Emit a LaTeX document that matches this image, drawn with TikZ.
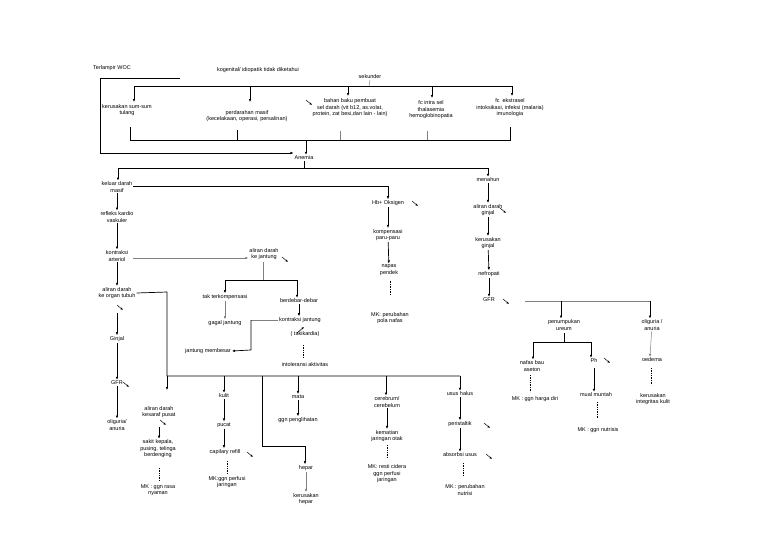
\documentclass[tikz,border=0pt]{standalone}
\usepackage{fontspec}
\setmainfont{Liberation Sans}
\usetikzlibrary{arrows.meta}
\begin{document}
\begin{tikzpicture}[x=1pt,y=-1pt,
 t/.style={font=\fontsize{5.5}{6.5}\selectfont,align=center,inner sep=1pt},
 a/.style={-{Latex[length=3pt,width=2.6pt]},line width=0.7pt},
 l/.style={line width=0.7pt},
 g/.style={line width=0.5pt,gray},
 dd/.style={densely dotted,line width=0.7pt}]
\useasboundingbox (0,0) rectangle (768,543);
\newcommand{\dn}[1]{\draw[-{Latex[length=2.5pt,width=2.2pt]},line width=0.5pt] (#1) ++(-3,-3) -- ++(6,5);}
% top
\node[t] (woc) at (112,68) {Terlampir WOC};
\node[t] (kog) at (258,70) {kogenital/ idiopatik tidak diketahui};
\node[t] (sek) at (370,77) {sekunder};
\node[t] (k1) at (127,110) {kerusakan sum-sum\\tulang};
\node[t] (k2) at (247,116) {perdarahan masif\\(kecelakaan, operasi, persalinan)};
\node[t] (k3) at (350,108) {bahan baku pembuat\\sel darah (vit b12, as.volat,\\protein, zat besi,dan lain - lain)};
\node[t] (k4) at (431,110) {fc intra sel\\thalasemia\\hemoglobinopatia};
\node[t] (k5) at (510,108) {fc\ \ ekstrasel\\intoksikasi, infeksi (malaria)\\imunologia};
\dn{309,103}
\draw[g] (sek.south) -- (369,86);
\draw[l] (134,86) -- (512,86);
\draw[a] (134,86) -- (134,102);
\draw[a] (250,86) -- (250,102);
\draw[a] (348,86) -- (348,96);
\draw[a] (432,86) -- (432,98);
\draw[a] (512,86) -- (512,96);
\draw[l] (130,127) -- (130,140) -- (510,140) -- (510,127);
\draw[l] (237,130) -- (237,140);
\draw[g] (340,131) -- (340,140);
\draw[g] (427,131) -- (427,140);
\node[t] (an) at (304,158) {Anemia};
\draw[a] (306,140) -- (an.north -| 306,0);
\draw[a] (180,78) -- (100,78) -- (100,153) -- (an.west |- 0,153);
% level 2
\draw[l] (an.south) -- (304,168);
\draw[l] (118,168) -- (488,168);
\node[t] (kd) at (117,187) {keluar darah\\masif};
\node[t] (me) at (488,180) {menahun};
\draw[a] (118,168) -- (kd.north -| 118,0);
\draw[a] (488,168) -- (me.north);
% left column
\node[t] (rk) at (117,217) {refleks kardio\\vaskuler};
\node[t] (ka) at (117,256) {kontraksi\\arteriol};
\node[t] (ao) at (117,293) {aliran darah\\ke organ tubuh};
\dn{120,308}
\node[t] (gi) at (117,339) {Ginjal};
\node[t] (gf) at (117,383) {GFR};
\dn{126,385}
\node[t] (ol) at (117,425) {oliguria/\\anuria};
\draw[a] (kd) -- (rk);
\draw[a] (rk) -- (ka);
\draw[a] (ka) -- (ao);
\draw[a] (117,313) -- (gi);
\draw[a] (gi) -- (gf);
\draw[a] (gf) -- (ol);
% Hb column
\node[t] (hb) at (388,203) {Hb+ Oksigen};
\dn{415,204}
\node[t] (kp) at (388,235) {kompensasi\\paru-paru};
\node[t] (np) at (389,270) {napas\\pendek};
\node[t] (mk1) at (390,318) {MK: perubahan\\pola nafas};
\draw[a] (kd.east |- 0,186) -- (388,186) -- (hb.north);
\draw[a] (hb) -- (kp);
\draw[a] (kp) -- (np);
\draw[dd] (np.south) ++(1,4) -- ++(0,15);
% jantung
\node[t] (aj) at (264,254) {aliran darah\\ke jantung};
\dn{285,260}
\draw[g,-{Latex[length=3pt,width=2.6pt]}] (ka.east) ++(4,2) -- (aj.west |- 0,258);
\draw[g] (263,262) -- (263,280);
\draw[l] (225,280) -- (297,280);
\node[t] (tk) at (225,297) {tak terkompensasi};
\node[t] (bd) at (299,301) {berdebar-debar};
\node[t] (gj) at (225,323) {gagal jantung};
\node[t] (kj) at (300,320) {kontraksi jantung};
\node[t] (ta) at (305,334) {( takikardia)};
\node[t] (jm) at (208,351) {jantung membesar};
\node[t] (ia) at (305,365) {intoleransi aktivitas};
\draw[a] (225,280) -- (tk.north);
\draw[a] (297,280) -- (bd.north -| 297,0);
\draw[g,-{Latex[length=3pt,width=2.6pt]}] (tk) -- (gj);
\draw[a] (bd) -- (kj.north -| 299,0);
\draw[-{Latex[length=2.5pt,width=2.2pt]},line width=0.5pt] (297,333) -- (304,327);
\draw[g] (kj.west) -- (251,320);
\draw[a] (251,320) -- (251,350) -- (jm.east);
\draw[dd] (303,345) -- (303,358);
% big bracket
\draw[l] (ao.east) -- (167,292) -- (167,376) -- (460,376);
\draw[l] (262,376) -- (262,446) -- (305,446);
\node[t] (as) at (159,412) {aliran darah\\kesaraf pusat};
\dn{163,423}
\node[t] (sk) at (158,449) {sakit kepala,\\pusing, telinga\\berdenging};
\node[t] (mk2) at (158,490) {MK : ggn rasa\\nyaman};
\draw[a] (167,376) -- (167,390);
\draw[a] (159,427) -- (sk.north -| 159,0);
\draw[dd] (159,468) -- (159,481);
\node[t] (ku) at (224,396) {kulit};
\node[t] (pu) at (224,425) {pucat};
\node[t] (cr) at (225,452) {capilary refill};
\dn{250,455}
\node[t] (mk3) at (227,482) {MK:ggn perfusi\\jaringan};
\draw[a] (224,376) -- (ku.north);
\draw[a] (ku) -- (pu);
\draw[a] (pu) -- (cr.north -| 224,0);
\draw[dd] (227,461) -- (227,474);
\node[t] (ma) at (298,397) {mata};
\node[t] (gp) at (298,420) {ggn penglihatan};
\draw[a] (298,376) -- (ma.north);
\draw[a] (ma) -- (gp);
\node[t] (he) at (306,468) {hepar};
\node[t] (kh) at (306,499) {kerusakan\\hepar};
\draw[a] (305,446) -- (he.north -| 305,0);
\draw[g,-{Latex[length=3pt,width=2.6pt]}] (he) -- (kh);
\node[t] (ce) at (387,402) {cerebrum/\\cerebelum};
\node[t] (ko) at (387,436) {kematian\\jaringan otak};
\node[t] (mk4) at (387,474) {MK: resti cidera\\ggn perfusi\\jaringan};
\draw[a] (386,376) -- (ce.north -| 386,0);
\draw[a] (ce) -- (ko);
\draw[dd] (387,445) -- (387,458);
\node[t] (uh) at (460,394) {usus halus};
\node[t] (pe) at (460,424) {peristaltik};
\dn{487,426}
\node[t] (ab) at (460,455) {absorbsi usus};
\dn{489,457}
\node[t] (mk5) at (465,490) {MK : perubahan\\nutrisi};
\draw[a] (460,376) -- (uh.north);
\draw[a] (uh) -- (pe);
\draw[a] (pe) -- (ab);
\draw[dd] (463,463) -- (463,475);
% right column
\node[t] (ag) at (488,210) {aliran darah\\ginjal};
\dn{503,211}
\node[t] (kg) at (488,243) {kerusakan\\ginjal};
\node[t] (nf) at (489,274) {nefropati};
\node[t] (gf2) at (489,300) {GFR};
\dn{506,302}
\draw[a] (me) -- (ag);
\draw[a] (ag) -- (kg);
\draw[a] (kg) -- (nf);
\draw[a] (nf) -- (gf2);
\draw[g] (525,301) -- (650,301);
\node[t] (pn) at (564,325) {penumpukan\\ureum};
\node[t] (oa) at (652,325) {oliguria /\\anuria};
\draw[a] (561,301) -- (pn.north -| 561,0);
\draw[a] (650,301) -- (oa.north -| 650,0);
\draw[l] (564,333) -- (564,342);
\draw[l] (533,342) -- (591,342);
\node[t] (nb) at (532,366) {nafas bau\\aseton};
\node[t] (ph) at (594,361) {Ph};
\dn{607,361}
\draw[a] (533,342) -- (nb.north -| 533,0);
\draw[a] (591,342) -- (ph.north -| 591,0);
\node[t] (mk6) at (535,399) {MK : ggn harga diri};
\draw[dd] (530,375) -- (530,392);
\node[t] (mm) at (596,395) {mual muntah};
\node[t] (mk7) at (598,430) {MK : ggn nutrisis};
\draw[a] (594,368) -- (mm.north -| 594,0);
\draw[dd] (597,402) -- (597,418);
\node[t] (oe) at (652,360) {oedema};
\node[t] (ik) at (653,399) {kerusakan\\integritas kulit};
\draw[g,-{Latex[length=3pt,width=2.6pt]}] (oa) -- (oe.north -| 650,0);
\draw[dd] (651,368) -- (651,385);
\end{tikzpicture}
\end{document}
